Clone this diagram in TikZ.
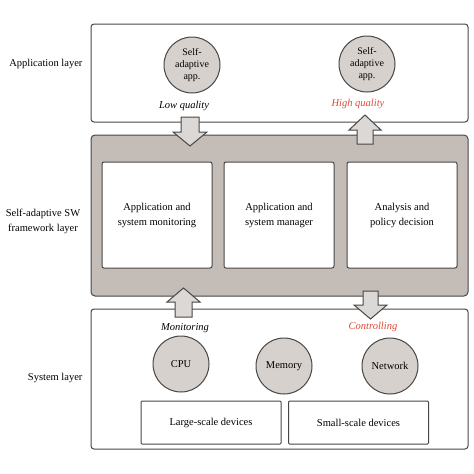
\documentclass[tikz,border=0pt]{standalone}
\usepackage{fontspec}
\setmainfont{Liberation Serif}
\begin{document}
\begin{tikzpicture}[x=1pt,y=-1pt,
  layerbox/.style={draw=black!72,line width=1pt,rounded corners=3pt},
  fwbox/.style={draw=black!72,line width=1pt,rounded corners=4pt,fill=fwgray},
  innerbox/.style={draw=black!72,line width=1pt,rounded corners=2pt,fill=white,minimum width=110pt,minimum height=106pt,align=center,font=\fontsize{10.5}{15}\selectfont,inner sep=0pt},
  devbox/.style={draw=black!72,line width=1pt,rounded corners=1pt,fill=white,minimum width=140pt,minimum height=43pt,font=\fontsize{10.5}{12}\selectfont,inner sep=0pt},
  circ/.style={circle,draw=black!72,line width=1pt,fill=circgray,minimum size=56pt,inner sep=0pt,align=center,font=\fontsize{10}{12}\selectfont},
  blockarrow/.style={draw=black!72,line width=1pt,fill=arrgray},
  laylabel/.style={font=\fontsize{10.5}{15}\selectfont,align=center},
  qlabel/.style={font=\itshape\fontsize{10.5}{12}\selectfont},
  ]
\definecolor{fwgray}{RGB}{196,188,182}
\definecolor{circgray}{RGB}{214,209,205}
\definecolor{arrgray}{RGB}{220,216,213}
\definecolor{qred}{RGB}{222,72,52}
\useasboundingbox (0,0) rectangle (474,474);
% layer boxes
\draw[layerbox] (91,24) rectangle (468,122);
\draw[fwbox] (91,135) rectangle (468,296);
\draw[layerbox] (91,309) rectangle (468,449);
% layer labels
\node[laylabel,anchor=east] (lapp) at (86,64) {Application layer};
\node[laylabel] (lfw) at (43,221) {Self-adaptive SW\\framework layer};
\node[laylabel,anchor=east] (lsys) at (86,378) {System layer};
% app circles
\node[circ] (app1) at (192,65) {Self-\\adaptive\\app.};
\node[circ] (app2) at (367,64) {Self-\\adaptive\\app.};
\node[qlabel] (lq) at (184,106) {Low quality};
\node[qlabel,text=qred] (hq) at (358,104) {High quality};
% inner framework boxes
\node[innerbox] (mon) at (157,215) {Application and\\system monitoring};
\node[innerbox] (mgr) at (279,215) {Application and\\system manager};
\node[innerbox] (pol) at (402,215) {Analysis and\\policy decision};
% block arrows
\draw[blockarrow] (181,117) -- (199,117) -- (199,132) -- (207,132) -- (190,146) -- (173,132) -- (181,132) -- cycle;
\draw[blockarrow] (357,144) -- (373,144) -- (373,130) -- (381,130) -- (365,115) -- (349,130) -- (357,130) -- cycle;
\draw[blockarrow] (175,317) -- (192,317) -- (192,302) -- (200,302) -- (183.5,288) -- (167,302) -- (175,302) -- cycle;
\draw[blockarrow] (363,291) -- (378,291) -- (378,305) -- (387,305) -- (370.5,319) -- (354,305) -- (363,305) -- cycle;
% system layer
\node[qlabel] (mo) at (185,328) {Monitoring};
\node[qlabel,text=qred] (co) at (373,327) {Controlling};
\node[circ,font=\fontsize{10.5}{12}\selectfont] (cpu) at (181,364) {CPU};
\node[circ,font=\fontsize{10.5}{12}\selectfont] (mem) at (284,366) {Memory};
\node[circ,font=\fontsize{10.5}{12}\selectfont] (net) at (390,366) {Network};
\node[devbox] (large) at (211,422.5) {Large-scale devices};
\node[devbox] (small) at (358.5,422.5) {Small-scale devices};
\end{tikzpicture}
\end{document}
